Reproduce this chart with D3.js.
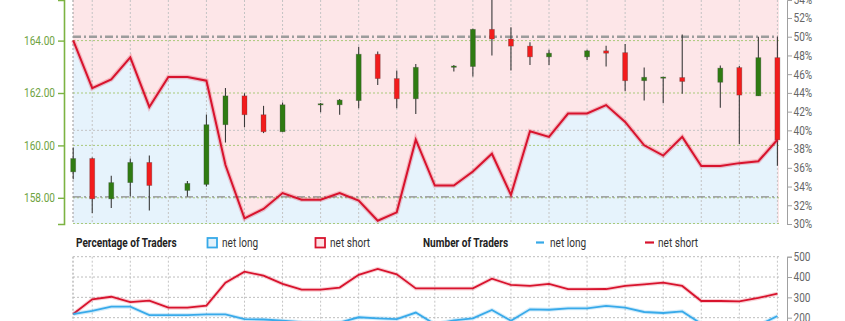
<!DOCTYPE html>
<html>
<head>
<meta charset="utf-8">
<script src="https://cdn.jsdelivr.net/npm/d3@7"></script>
<style>
  body { margin: 0; background: #fff; }
  svg text { font-family: Roboto, "Noto Sans", sans-serif; }
</style>
</head>
<body>
<div id="chart"></div>
<script>
// --- données ---
// % de traders net long (ligne rouge, axe de droite)
const netLongPct = [49.6, 44.5, 45.45, 47.8, 42.5, 45.7, 45.7, 45.3, 36.3, 30.6, 31.6, 33.3, 32.6, 32.6, 33.3, 32.5, 30.35, 31.25, 39.0,
  34.1, 34.1, 35.6, 37.5, 33.1, 39.9, 39.3, 41.8, 41.8, 42.7, 40.9, 38.4, 37.3, 39.3, 36.2, 36.2, 36.5, 36.7, 39.0];

// bougies (null = pas de bougie)
const opens  = [158.99, 159.50, 157.96, 158.58, 159.35, null, 158.28, 158.51, 160.79, 161.89, 161.17, 160.52, null, 161.58, 161.55, 161.71, 163.48, 162.55, 161.78,
  null, 162.98, 163.01, 164.43, 164.06, 163.79, 163.38, null, 163.38, 163.61, 163.54, 162.47, 162.60, 162.59, null, 162.41, 162.97, 161.89, 163.35];
const highs  = [159.92, 159.54, 158.84, 159.50, 159.61, null, 158.64, 161.18, 162.19, 161.99, 161.51, 161.64, null, 161.62, 161.77, 163.77, 163.58, 162.86, 163.11,
  null, 163.07, 164.45, 166.00, 164.51, 163.94, 163.65, null, 163.65, 163.80, 163.87, 162.97, 162.62, 164.23, null, 163.05, 163.03, 164.15, 164.15];
const lows   = [158.71, 157.42, 157.61, 158.05, 157.52, null, 158.05, 158.43, 160.11, 160.69, 160.47, 160.52, null, 161.27, 161.17, 161.42, 162.31, 161.42, 161.20,
  null, 162.82, 162.63, 163.43, 162.86, 163.07, 163.07, null, 163.26, 163.01, 162.07, 161.71, 161.61, 161.97, null, 161.44, 160.05, 161.89, 159.22];
const closes = [159.50, 157.96, 158.58, 159.35, 158.47, null, 158.55, 160.79, 161.89, 161.17, 160.52, 161.55, null, 161.59, 161.73, 163.48, 162.55, 161.78, 162.98,
  null, 163.03, 164.43, 164.06, 163.79, 163.38, 163.52, null, 163.61, 163.52, 162.47, 162.60, 162.61, 162.44, null, 162.95, 161.92, 163.35, 160.21];

// nombre de traders
const shortCount = [218, 290, 303, 277, 284, 249, 249, 259, 372, 426, 407, 366, 338, 338, 348, 411, 440, 413, 344,
  344, 344, 344, 392, 361, 356, 366, 340, 340, 341, 356, 364, 372, 356, 282, 282, 280, 297, 318];
const longCount = [218, 233, 254, 254, 213, 213, 213, 216, 216, 193, 191, 185, 178, 175, 176, 202, 197, 193, 225,
  168, 187, 197, 238, 185, 241, 239, 246, 246, 258, 249, 228, 223, 231, 170, 160, 160, 162, 208];

const priceTicks = [158, 160, 162, 164];
const pctTicks = [30, 32, 34, 36, 38, 40, 42, 44, 46, 48, 50, 52, 54];
const countTicks = [200, 300, 400, 500];
const refLevels = [50, 32.9];   // lignes tiret-point

// --- mise en page ---
const W = 845, H = 321;
const SX = 0.84; // police condensée
const n = netLongPct.length;
const idx = d3.range(n);

const x = d3.scaleLinear().domain([0, n - 1]).range([73.2, 777.4]);
const yPct = d3.scaleLinear().domain([30, 53.92]).range([224, 0]);
const yPrice = d3.scaleLinear().domain([157.0, 165.55]).range([224, 0]);
const yCount = d3.scaleLinear().domain([100, 500]).range([338, 256.7]);

const plotL = 73, plotR = 779, mainB = 224, subT = 256.7;

const svg = d3.select('#chart').append('svg')
  .attr('width', W).attr('height', H);

function squeeze(sel) {
  sel.each(function() {
    const t = d3.select(this);
    const tx = +t.attr('x') || 0, ty = +t.attr('y') || 0;
    t.attr('x', 0).attr('y', 0).attr('transform', `translate(${tx},${ty}) scale(${SX},1)`);
  });
}

// ===== panneau principal =====
const main = svg.append('g');
main.append('rect').attr('x', plotL).attr('y', 0).attr('width', plotR - plotL).attr('height', mainB)
  .attr('fill', '#fde6e8');

main.append('path')
  .datum(idx)
  .attr('fill', '#e6f3fc')
  .attr('d', d3.area().x(i => x(i)).y0(mainB).y1(i => yPct(netLongPct[i])));

// grille verticale
const oddIdx = idx.filter(i => i % 2 === 1);
main.append('g').selectAll('line').data(oddIdx).enter().append('line')
  .attr('x1', i => x(i)).attr('x2', i => x(i)).attr('y1', 0).attr('y2', mainB)
  .style('stroke', '#c4c4c4').style('stroke-dasharray', '2,2');
main.append('line').attr('x1', plotL).attr('x2', plotL).attr('y1', 0).attr('y2', mainB)
  .style('stroke', '#999').style('stroke-dasharray', '2,2');

// grille horizontale % (gris)
main.append('g').selectAll('line').data([40]).enter().append('line')
  .attr('x1', plotL).attr('x2', plotR).attr('y1', d => yPct(d)).attr('y2', d => yPct(d))
  .style('stroke', '#c4c4c4').style('stroke-dasharray', '2,2');

// grille horizontale prix (vert)
main.append('g').selectAll('line').data(priceTicks).enter().append('line')
  .attr('x1', plotL).attr('x2', plotR).attr('y1', d => yPrice(d)).attr('y2', d => yPrice(d))
  .style('stroke', '#a9c97a').style('stroke-dasharray', '2,2');
main.append('line').attr('x1', plotL).attr('x2', plotR).attr('y1', mainB - 0.5).attr('y2', mainB - 0.5)
  .style('stroke', '#a9c97a').style('stroke-dasharray', '2,2');

// lignes tiret-point
main.append('g').selectAll('line').data(refLevels).enter().append('line')
  .attr('x1', plotL).attr('x2', plotR - 1).attr('y1', d => yPct(d)).attr('y2', d => yPct(d))
  .style('stroke', (d, i) => i === 0 ? '#9c9c9c' : '#8c8c8c')
  .style('stroke-width', (d, i) => i === 0 ? 2.5 : 1.2)
  .style('stroke-dasharray', '8,3,2,3');

// bougies
const candleIdx = idx.filter(i => opens[i] !== null);
const candles = main.append('g').selectAll('g').data(candleIdx).enter().append('g');
candles.append('line')
  .attr('x1', i => x(i)).attr('x2', i => x(i))
  .attr('y1', i => yPrice(highs[i])).attr('y2', i => yPrice(lows[i]))
  .style('stroke', '#3a3a3a').style('stroke-width', 1.1);
candles.append('rect')
  .attr('x', i => x(i) - 2.5).attr('width', 5)
  .attr('y', i => yPrice(Math.max(opens[i], closes[i])))
  .attr('height', i => Math.max(1.2, Math.abs(yPrice(opens[i]) - yPrice(closes[i]))))
  .style('fill', i => closes[i] >= opens[i] ? '#2f7b12' : '#f21c1c')
  .style('stroke', 'rgba(60,60,60,0.35)').style('stroke-width', 0.8);

// ligne % net long
const pctLine = d3.line().x(i => x(i)).y(i => yPct(netLongPct[i]));
main.append('path').datum(idx).attr('d', pctLine)
  .style('fill', 'none').style('stroke', 'rgba(220,20,45,0.22)').style('stroke-width', 4.5);
main.append('path').datum(idx).attr('d', pctLine)
  .style('fill', 'none').style('stroke', '#d8132d').style('stroke-width', 2).style('stroke-linejoin', 'miter');

// axe gauche (prix)
const axL = svg.append('g').attr('transform', 'translate(64,0)')
  .call(d3.axisLeft(yPrice).tickValues(priceTicks).tickFormat(d3.format('.2f')).tickSizeInner(6).tickSizeOuter(6));
axL.select('.domain').style('stroke', '#7cb342').style('stroke-width', 1.6);
axL.selectAll('.tick line').style('stroke', '#7cb342').style('stroke-width', 1.4);
axL.selectAll('text').style('fill', '#6fa33f').style('font-size', '12px');
squeeze(axL.selectAll('text'));

// axe droit (%)
const axR = svg.append('g').attr('transform', 'translate(787,0)')
  .call(d3.axisRight(yPct).tickValues(pctTicks).tickFormat(d => d + '%').tickSize(5).tickPadding(1.5));
axR.select('.domain').style('stroke', '#a0a0a0');
axR.selectAll('.tick line').style('stroke', '#a0a0a0');
axR.selectAll('text').style('fill', '#666').style('font-size', '12px');
squeeze(axR.selectAll('text'));

// ===== légende =====
const leg = svg.append('g').style('font-size', '12px');
const legY = 247;
leg.append('text').attr('x', 76).attr('y', legY).text('Percentage of Traders')
  .style('font-weight', 'bold').style('fill', '#222');
leg.append('rect').attr('x', 207.5).attr('y', 238).attr('width', 9.5).attr('height', 9.5)
  .style('fill', '#e3f2fb').style('stroke', '#36a9e8').style('stroke-width', 1.8);
leg.append('text').attr('x', 222).attr('y', legY).text('net long').style('fill', '#333');
leg.append('rect').attr('x', 315.5).attr('y', 238).attr('width', 9.5).attr('height', 9.5)
  .style('fill', '#fde0e3').style('stroke', '#d8132d').style('stroke-width', 1.8);
leg.append('text').attr('x', 330).attr('y', legY).text('net short').style('fill', '#333');
leg.append('text').attr('x', 423).attr('y', legY).text('Number of Traders')
  .style('font-weight', 'bold').style('fill', '#222');
leg.append('line').attr('x1', 536).attr('x2', 544).attr('y1', 242.5).attr('y2', 242.5)
  .style('stroke', '#36a9e8').style('stroke-width', 2.2);
leg.append('text').attr('x', 550).attr('y', legY).text('net long').style('fill', '#333');
leg.append('line').attr('x1', 645).attr('x2', 654).attr('y1', 242.5).attr('y2', 242.5)
  .style('stroke', '#d8132d').style('stroke-width', 2.2);
leg.append('text').attr('x', 658).attr('y', legY).text('net short').style('fill', '#333');
squeeze(leg.selectAll('text'));

// ===== panneau du bas (nombre de traders) =====
const sub = svg.append('g');
sub.append('g').selectAll('line').data(oddIdx).enter().append('line')
  .attr('x1', i => x(i)).attr('x2', i => x(i)).attr('y1', subT).attr('y2', H)
  .style('stroke', '#c4c4c4').style('stroke-dasharray', '2,2');
sub.append('line').attr('x1', plotL).attr('x2', plotL).attr('y1', subT).attr('y2', H)
  .style('stroke', '#999').style('stroke-dasharray', '2,2');
sub.append('g').selectAll('line').data(countTicks).enter().append('line')
  .attr('x1', plotL).attr('x2', plotR).attr('y1', d => yCount(d)).attr('y2', d => yCount(d))
  .style('stroke', '#bdbdbd').style('stroke-dasharray', '2,2');

const countLine = arr => d3.line().x(i => x(i)).y(i => yCount(arr[i]));
[[shortCount, '#d8132d', 'rgba(220,20,45,0.2)'], [longCount, '#38aaea', 'rgba(56,170,234,0.22)']].forEach(([arr, col, halo]) => {
  sub.append('path').datum(idx).attr('d', countLine(arr))
    .style('fill', 'none').style('stroke', halo).style('stroke-width', 4);
  sub.append('path').datum(idx).attr('d', countLine(arr))
    .style('fill', 'none').style('stroke', col).style('stroke-width', 1.8);
});

const axC = svg.append('g').attr('transform', 'translate(787,0)')
  .call(d3.axisRight(yCount).tickValues(countTicks).tickSize(5).tickPadding(1.5));
axC.select('.domain').style('stroke', '#a0a0a0');
axC.selectAll('.tick line').style('stroke', '#a0a0a0');
axC.selectAll('text').style('fill', '#666').style('font-size', '12px');
squeeze(axC.selectAll('text'));
</script>
</body>
</html>
